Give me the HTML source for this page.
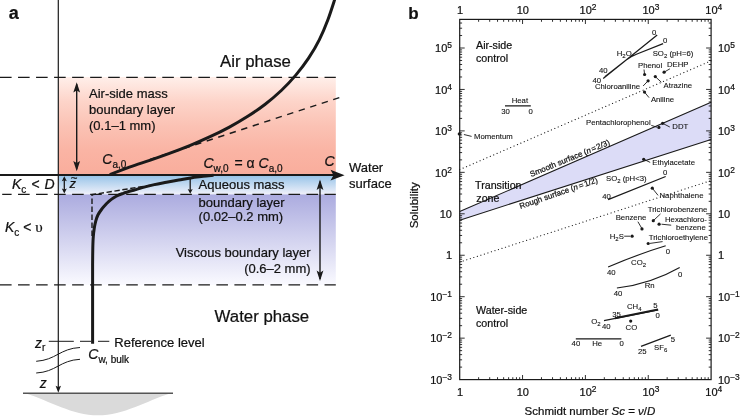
<!DOCTYPE html>
<html lang="en"><head><meta charset="utf-8"><title>Air–water gas exchange</title>
<style>
html,body{margin:0;padding:0;background:#fff}
body{width:740px;height:418px;overflow:hidden}
svg{display:block}
text{font-family:"Liberation Sans",Arial,Helvetica,sans-serif;fill:#111;stroke:#111;stroke-width:0.22px}
.i{font-style:italic}
.m{font-size:14px}
.ser{font-family:"Liberation Serif",serif;font-size:15px}
.b{font-weight:bold}
.t13{font-size:13px}
.t165{font-size:16.8px}
.t105{font-size:10.7px}
.t10{font-size:11px}
.t8{font-size:7.75px;stroke-width:0.1px}
.sup{font-size:8.4px}
.sub{font-size:10px}
.ln{stroke:#1a1a1a;fill:none}
</style></head><body>
<svg width="740" height="418" viewBox="0 0 740 418">
<defs>
<linearGradient id="gp" x1="0" y1="0" x2="0" y2="1"><stop offset="0" stop-color="#ffefea"/><stop offset="0.25" stop-color="#fdd4c9"/><stop offset="0.5" stop-color="#fbc2b4"/><stop offset="0.75" stop-color="#fab4a4"/><stop offset="1" stop-color="#f9ad9c"/></linearGradient>
<linearGradient id="gb" x1="0" y1="0" x2="0" y2="1"><stop offset="0" stop-color="#96c3e8"/><stop offset="1" stop-color="#f0f1fa"/></linearGradient>
<linearGradient id="gv" x1="0" y1="0" x2="0" y2="1"><stop offset="0" stop-color="#ababdf"/><stop offset="1" stop-color="#fafaff"/></linearGradient>
</defs>
<g id="panel-a">
<rect x="58.3" y="77" width="277.5" height="98.2" fill="url(#gp)"/>
<rect x="58.3" y="175.2" width="277.5" height="19.2" fill="url(#gb)"/>
<rect x="58.3" y="194.4" width="277.5" height="90.4" fill="url(#gv)"/>
<path d="M26 393.5 C50 401 72 415.3 98 415.3 C124 415.3 146 401 170 393.5 Z" fill="#dadada"/>
<line x1="23" y1="393.2" x2="173" y2="393.2" stroke="#555" stroke-width="1.4"/>
<line x1="58.3" y1="0" x2="58.3" y2="387" class="ln" stroke-width="1.2"/>
<path d="M58.3 392.8 L55.6 385.8 L58.3 387 L61 385.8 Z" fill="#1a1a1a"/>
<line x1="0" y1="77.3" x2="335.8" y2="77.3" class="ln" stroke-width="1.15" stroke-dasharray="11.6 6.43"/>
<line x1="0" y1="194.4" x2="335.8" y2="194.4" class="ln" stroke-width="1.15" stroke-dasharray="11.6 6.43"/><rect x="0" y="192" width="2.2" height="5" fill="#fff"/>
<line x1="0" y1="284.8" x2="335.8" y2="284.8" class="ln" stroke-width="1.15" stroke-dasharray="11.6 6.43"/>
<path d="M48.8 341.3 H73.8 M80 341.3 H91 M98 341.3 H109.3" class="ln" stroke-width="1"/>
<path d="M36.2 361.3 C56 360 60 348.5 80 347.5" class="ln" stroke-width="1"/>
<path d="M36.2 373 C56 372 60 360.3 80 359.3" class="ln" stroke-width="1"/>
<line x1="339.3" y1="97.6" x2="150" y2="159.5" class="ln" stroke-width="1.5" stroke-dasharray="6.4 5.7"/>
<path d="M92 236 V194.7 L160 183.7" class="ln" stroke-width="1.4" stroke-dasharray="5.4 2.6"/>
<line x1="0" y1="175.1" x2="334" y2="175.1" class="ln" stroke-width="2"/>
<path d="M344.6 175.2 L330.5 169.8 L333.5 175.2 L330.5 180.6 Z" fill="#1a1a1a"/>
<path d="M109.8 174.6 C113.1 173.3 122.8 169.5 129.4 167.1 C136.1 164.7 142.9 162.6 149.7 160.3 C156.5 158.0 163.3 155.6 170.1 153.1 C176.9 150.6 183.6 148.0 190.3 145.3 C197.0 142.6 203.6 139.7 210.1 136.7 C216.6 133.7 223.1 130.5 229.4 127.1 C235.7 123.7 241.8 120.1 247.8 116.3 C253.8 112.5 259.6 108.5 265.2 104.2 C270.8 99.9 276.2 95.3 281.3 90.5 C286.4 85.7 291.2 80.5 295.8 75.1 C300.4 69.7 304.7 64.1 308.6 58.2 C312.5 52.3 316.2 46.1 319.4 39.6 C322.6 33.1 325.4 26.4 328.0 19.5 C330.6 12.6 334.0 1.6 335.2 -2.0" class="ln" stroke-width="3"/>
<path d="M213.5 175.2 C211.8 175.4 206.8 175.9 203.0 176.3 C199.2 176.8 194.9 177.3 190.8 177.9 C186.8 178.5 182.8 179.3 178.7 180.0 C174.6 180.7 170.6 181.4 166.5 182.2 C162.4 183.0 158.4 183.7 154.3 184.6 C150.2 185.5 145.4 186.7 142.2 187.6 C139.0 188.5 137.3 189.1 135.0 189.8 C132.7 190.5 130.0 191.2 128.1 191.8 C126.1 192.4 124.9 192.7 123.3 193.3 C121.7 193.9 120.1 194.4 118.5 195.2 C116.9 195.9 115.3 196.8 113.7 197.8 C112.1 198.8 110.4 200.1 108.9 201.4 C107.4 202.7 106.0 204.2 104.8 205.6 C103.6 206.9 102.7 207.9 101.5 209.5 C100.3 211.1 98.9 213.1 97.9 215.0 C97.0 216.9 96.4 218.6 95.8 220.8 C95.2 223.0 94.7 225.4 94.3 228.0 C93.9 230.6 93.5 233.3 93.3 236.6 C93.0 239.9 92.9 243.3 92.8 248.0 C92.7 252.7 92.6 262.2 92.6 265.0 V343.8" class="ln" stroke-width="3"/>
<line x1="76.7" y1="84.2" x2="76.7" y2="169.3" class="ln" stroke-width="1.4"/><path d="M76.7 82.2 L73.3 92.6 L76.7 90.4 L80.1 92.6 Z" fill="#1a1a1a"/><path d="M76.7 171.3 L73.3 160.9 L76.7 163.1 L80.1 160.9 Z" fill="#1a1a1a"/>
<line x1="64.3" y1="178.2" x2="64.3" y2="191.6" class="ln" stroke-width="1.3"/><path d="M64.3 176.2 L61.8 181.2 L64.3 180.2 L66.8 181.2 Z" fill="#1a1a1a"/><path d="M64.3 193.6 L61.8 188.6 L64.3 189.6 L66.8 188.6 Z" fill="#1a1a1a"/>
<line x1="190.2" y1="178.0" x2="190.2" y2="191.7" class="ln" stroke-width="1.3"/><path d="M190.2 193.7 L187.7 189.1 L190.2 189.9 L192.7 189.1 Z" fill="#1a1a1a"/>
<line x1="320.0" y1="181.5" x2="320.0" y2="279.0" class="ln" stroke-width="1.4"/><path d="M320.0 179.5 L316.6 189.9 L320.0 187.7 L323.4 189.9 Z" fill="#1a1a1a"/><path d="M320.0 281.0 L316.6 270.6 L320.0 272.8 L323.4 270.6 Z" fill="#1a1a1a"/>
<text x="8.8" y="19.4" class="b" style="font-size:18px">a</text>
<text x="220" y="66.6" class="t165">Air phase</text>
<text x="214.6" y="321.6" class="t165">Water phase</text>
<text x="89" y="98.1" class="t13">Air-side mass</text>
<text x="89" y="114" class="t13">boundary layer</text>
<text x="89" y="129.6" class="t13">(0.1–1 mm)</text>
<text x="198.6" y="188.9" class="t13">Aqueous mass</text>
<text x="198.6" y="206.9" class="t13">boundary layer</text>
<text x="198.6" y="220.8" class="t13">(0.02–0.2 mm)</text>
<text x="310.6" y="256.7" class="t13" text-anchor="end">Viscous boundary layer</text>
<text x="310.6" y="272.5" class="t13" text-anchor="end">(0.6–2 mm)</text>
<text x="349" y="172.2" class="t13">Water</text>
<text x="349" y="188.2" class="t13">surface</text>
<text x="114.3" y="347.2" class="t13">Reference level</text>
<text x="102.3" y="164" class="m"><tspan class="i">C</tspan><tspan class="sub" dy="3.9">a,0</tspan></text>
<text x="203.4" y="167.8" class="m"><tspan class="i">C</tspan><tspan class="sub" dy="3.9">w,0</tspan><tspan dy="-3.9" dx="6">= α </tspan><tspan class="i">C</tspan><tspan class="sub" dy="3.9">a,0</tspan></text>
<text x="324.6" y="166" class="m i">C</text>
<text x="12" y="189" class="m"><tspan class="i">K</tspan><tspan class="sub" dy="3.9">c</tspan><tspan dy="-3.9" dx="1.2"> &lt; </tspan><tspan class="i" dx="1">D</tspan></text>
<text x="5" y="232.4" class="m"><tspan class="i">K</tspan><tspan class="sub" dy="3.9">c</tspan><tspan dy="-3.9"> &lt; </tspan><tspan class="ser">υ</tspan></text>
<text x="69.6" y="188" class="t13 i">z</text>
<text x="70.8" y="182.3" style="font-size:11.5px">~</text>
<text x="35" y="347.5" class="m"><tspan class="i">z</tspan><tspan class="sub" dy="3.5">r</tspan></text>
<text x="39.8" y="387.5" class="m i">z</text>
<text x="88.3" y="358.8" class="m"><tspan class="i">C</tspan><tspan class="sub" dy="3.9">w, bulk</tspan></text>
</g>
<g id="panel-b">
<path d="M459.7 211.6 L711.1 102.3 L711.1 139.4 L459.7 220.2 Z" fill="#dcdcf7"/>
<path d="M459.7 211.6 L711.1 102.3 M459.7 220.2 L711.1 139.4" class="ln" stroke-width="1.1"/>
<path d="M459.7 169.6 L711.1 60.8 M459.7 262.1 L711.1 180.5" class="ln" stroke-width="1.15" stroke-linecap="round" stroke-dasharray="0.1 3.6"/>
<rect x="459.7" y="19.4" width="251.4" height="360.2" class="ln" stroke-width="1.2"/>
<path d="M478.62 19.4 v2.4 M478.62 379.6 v-2.4 M489.69 19.4 v2.4 M489.69 379.6 v-2.4 M497.54 19.4 v2.4 M497.54 379.6 v-2.4 M503.63 19.4 v2.4 M503.63 379.6 v-2.4 M508.61 19.4 v2.4 M508.61 379.6 v-2.4 M512.81 19.4 v2.4 M512.81 379.6 v-2.4 M516.46 19.4 v2.4 M516.46 379.6 v-2.4 M519.67 19.4 v2.4 M519.67 379.6 v-2.4 M522.55 19.4 v4.6 M522.55 379.6 v-4.6 M541.47 19.4 v2.4 M541.47 379.6 v-2.4 M552.54 19.4 v2.4 M552.54 379.6 v-2.4 M560.39 19.4 v2.4 M560.39 379.6 v-2.4 M566.48 19.4 v2.4 M566.48 379.6 v-2.4 M571.46 19.4 v2.4 M571.46 379.6 v-2.4 M575.66 19.4 v2.4 M575.66 379.6 v-2.4 M579.31 19.4 v2.4 M579.31 379.6 v-2.4 M582.52 19.4 v2.4 M582.52 379.6 v-2.4 M585.40 19.4 v4.6 M585.40 379.6 v-4.6 M604.32 19.4 v2.4 M604.32 379.6 v-2.4 M615.39 19.4 v2.4 M615.39 379.6 v-2.4 M623.24 19.4 v2.4 M623.24 379.6 v-2.4 M629.33 19.4 v2.4 M629.33 379.6 v-2.4 M634.31 19.4 v2.4 M634.31 379.6 v-2.4 M638.51 19.4 v2.4 M638.51 379.6 v-2.4 M642.16 19.4 v2.4 M642.16 379.6 v-2.4 M645.37 19.4 v2.4 M645.37 379.6 v-2.4 M648.25 19.4 v4.6 M648.25 379.6 v-4.6 M667.17 19.4 v2.4 M667.17 379.6 v-2.4 M678.24 19.4 v2.4 M678.24 379.6 v-2.4 M686.09 19.4 v2.4 M686.09 379.6 v-2.4 M692.18 19.4 v2.4 M692.18 379.6 v-2.4 M697.16 19.4 v2.4 M697.16 379.6 v-2.4 M701.36 19.4 v2.4 M701.36 379.6 v-2.4 M705.01 19.4 v2.4 M705.01 379.6 v-2.4 M708.22 19.4 v2.4 M708.22 379.6 v-2.4 M459.7 367.12 h2.4 M711.1 367.12 h-2.4 M459.7 359.82 h2.4 M711.1 359.82 h-2.4 M459.7 354.64 h2.4 M711.1 354.64 h-2.4 M459.7 350.63 h2.4 M711.1 350.63 h-2.4 M459.7 347.35 h2.4 M711.1 347.35 h-2.4 M459.7 344.57 h2.4 M711.1 344.57 h-2.4 M459.7 342.17 h2.4 M711.1 342.17 h-2.4 M459.7 340.05 h2.4 M711.1 340.05 h-2.4 M459.7 338.15 h5 M711.1 338.15 h-5 M459.7 325.67 h2.4 M711.1 325.67 h-2.4 M459.7 318.37 h2.4 M711.1 318.37 h-2.4 M459.7 313.19 h2.4 M711.1 313.19 h-2.4 M459.7 309.18 h2.4 M711.1 309.18 h-2.4 M459.7 305.90 h2.4 M711.1 305.90 h-2.4 M459.7 303.12 h2.4 M711.1 303.12 h-2.4 M459.7 300.72 h2.4 M711.1 300.72 h-2.4 M459.7 298.60 h2.4 M711.1 298.60 h-2.4 M459.7 296.70 h5 M711.1 296.70 h-5 M459.7 284.22 h2.4 M711.1 284.22 h-2.4 M459.7 276.92 h2.4 M711.1 276.92 h-2.4 M459.7 271.74 h2.4 M711.1 271.74 h-2.4 M459.7 267.73 h2.4 M711.1 267.73 h-2.4 M459.7 264.45 h2.4 M711.1 264.45 h-2.4 M459.7 261.67 h2.4 M711.1 261.67 h-2.4 M459.7 259.27 h2.4 M711.1 259.27 h-2.4 M459.7 257.15 h2.4 M711.1 257.15 h-2.4 M459.7 255.25 h5 M711.1 255.25 h-5 M459.7 242.77 h2.4 M711.1 242.77 h-2.4 M459.7 235.47 h2.4 M711.1 235.47 h-2.4 M459.7 230.29 h2.4 M711.1 230.29 h-2.4 M459.7 226.28 h2.4 M711.1 226.28 h-2.4 M459.7 223.00 h2.4 M711.1 223.00 h-2.4 M459.7 220.22 h2.4 M711.1 220.22 h-2.4 M459.7 217.82 h2.4 M711.1 217.82 h-2.4 M459.7 215.70 h2.4 M711.1 215.70 h-2.4 M459.7 213.80 h5 M711.1 213.80 h-5 M459.7 201.32 h2.4 M711.1 201.32 h-2.4 M459.7 194.02 h2.4 M711.1 194.02 h-2.4 M459.7 188.84 h2.4 M711.1 188.84 h-2.4 M459.7 184.83 h2.4 M711.1 184.83 h-2.4 M459.7 181.55 h2.4 M711.1 181.55 h-2.4 M459.7 178.77 h2.4 M711.1 178.77 h-2.4 M459.7 176.37 h2.4 M711.1 176.37 h-2.4 M459.7 174.25 h2.4 M711.1 174.25 h-2.4 M459.7 172.35 h5 M711.1 172.35 h-5 M459.7 159.87 h2.4 M711.1 159.87 h-2.4 M459.7 152.57 h2.4 M711.1 152.57 h-2.4 M459.7 147.39 h2.4 M711.1 147.39 h-2.4 M459.7 143.38 h2.4 M711.1 143.38 h-2.4 M459.7 140.10 h2.4 M711.1 140.10 h-2.4 M459.7 137.32 h2.4 M711.1 137.32 h-2.4 M459.7 134.92 h2.4 M711.1 134.92 h-2.4 M459.7 132.80 h2.4 M711.1 132.80 h-2.4 M459.7 130.90 h5 M711.1 130.90 h-5 M459.7 118.42 h2.4 M711.1 118.42 h-2.4 M459.7 111.12 h2.4 M711.1 111.12 h-2.4 M459.7 105.94 h2.4 M711.1 105.94 h-2.4 M459.7 101.93 h2.4 M711.1 101.93 h-2.4 M459.7 98.65 h2.4 M711.1 98.65 h-2.4 M459.7 95.87 h2.4 M711.1 95.87 h-2.4 M459.7 93.47 h2.4 M711.1 93.47 h-2.4 M459.7 91.35 h2.4 M711.1 91.35 h-2.4 M459.7 89.45 h5 M711.1 89.45 h-5 M459.7 76.97 h2.4 M711.1 76.97 h-2.4 M459.7 69.67 h2.4 M711.1 69.67 h-2.4 M459.7 64.49 h2.4 M711.1 64.49 h-2.4 M459.7 60.48 h2.4 M711.1 60.48 h-2.4 M459.7 57.20 h2.4 M711.1 57.20 h-2.4 M459.7 54.42 h2.4 M711.1 54.42 h-2.4 M459.7 52.02 h2.4 M711.1 52.02 h-2.4 M459.7 49.90 h2.4 M711.1 49.90 h-2.4 M459.7 48.00 h5 M711.1 48.00 h-5 M459.7 35.52 h2.4 M711.1 35.52 h-2.4 M459.7 28.22 h2.4 M711.1 28.22 h-2.4 M459.7 23.04 h2.4 M711.1 23.04 h-2.4" class="ln" stroke-width="0.9"/>
<text x="456.9" y="14.3" class="t10">1</text>
<text x="456.9" y="396.4" class="t10">1</text>
<text x="516.7" y="14.3" class="t10">10</text>
<text x="516.7" y="396.4" class="t10">10</text>
<text x="579.6" y="14.3" class="t10">10<tspan class="sup" dy="-4">2</tspan></text>
<text x="579.6" y="396.4" class="t10">10<tspan class="sup" dy="-4">2</tspan></text>
<text x="642.4" y="14.3" class="t10">10<tspan class="sup" dy="-4">3</tspan></text>
<text x="642.4" y="396.4" class="t10">10<tspan class="sup" dy="-4">3</tspan></text>
<text x="705.3" y="14.3" class="t10">10<tspan class="sup" dy="-4">4</tspan></text>
<text x="705.3" y="396.4" class="t10">10<tspan class="sup" dy="-4">4</tspan></text>
<text x="452" y="383.7" class="t10" text-anchor="end">10<tspan class="sup" dy="-4">−3</tspan></text>
<text x="717.9" y="383.7" class="t10">10<tspan class="sup" dy="-4">−3</tspan></text>
<text x="452" y="342.3" class="t10" text-anchor="end">10<tspan class="sup" dy="-4">−2</tspan></text>
<text x="717.9" y="342.3" class="t10">10<tspan class="sup" dy="-4">−2</tspan></text>
<text x="452" y="300.8" class="t10" text-anchor="end">10<tspan class="sup" dy="-4">−1</tspan></text>
<text x="717.9" y="300.8" class="t10">10<tspan class="sup" dy="-4">−1</tspan></text>
<text x="452" y="259.4" class="t10" text-anchor="end">1</text>
<text x="717.9" y="259.4" class="t10">1</text>
<text x="452" y="217.9" class="t10" text-anchor="end">10</text>
<text x="717.9" y="217.9" class="t10">10</text>
<text x="452" y="176.5" class="t10" text-anchor="end">10<tspan class="sup" dy="-4">2</tspan></text>
<text x="717.9" y="176.5" class="t10">10<tspan class="sup" dy="-4">2</tspan></text>
<text x="452" y="135.0" class="t10" text-anchor="end">10<tspan class="sup" dy="-4">3</tspan></text>
<text x="717.9" y="135.0" class="t10">10<tspan class="sup" dy="-4">3</tspan></text>
<text x="452" y="93.5" class="t10" text-anchor="end">10<tspan class="sup" dy="-4">4</tspan></text>
<text x="717.9" y="93.5" class="t10">10<tspan class="sup" dy="-4">4</tspan></text>
<text x="452" y="52.1" class="t10" text-anchor="end">10<tspan class="sup" dy="-4">5</tspan></text>
<text x="717.9" y="52.1" class="t10">10<tspan class="sup" dy="-4">5</tspan></text>
<text x="408.2" y="19.2" class="b" style="font-size:17px">b</text>
<text x="524.6" y="414.8" style="font-size:11.5px">Schmidt number <tspan class="i">Sc</tspan> = <tspan class="i">ν</tspan>/<tspan class="i">D</tspan></text>
<text transform="translate(418.2 205.3) rotate(-90)" text-anchor="middle" style="font-size:11.5px">Solubility</text>
<text x="476" y="48.8" class="t105">Air-side</text><text x="476" y="61.8" class="t105">control</text>
<text x="475" y="188.8" class="t105">Transition</text><text x="476.3" y="202" class="t105">zone</text>
<text x="476" y="313.5" class="t105">Water-side</text><text x="476" y="326.5" class="t105">control</text>
<text transform="translate(531.2 177.1) rotate(-22.4)" style="font-size:8px">Smooth surface (<tspan class="i">n</tspan><tspan dx="0.9">=</tspan><tspan dx="0.9">2/3)</tspan></text>
<text transform="translate(520.5 208.9) rotate(-18.9)" style="font-size:8px">Rough surface (<tspan class="i">n</tspan><tspan dx="1.2">=</tspan><tspan dx="1.2">1/2)</tspan></text>
<path d="M603.2 78.6 L657.2 35.1 M604.8 76.8 L626.5 59.8 Q631 56.4 637 54 L663.1 43.7 M505 105.8 H530.8 M608.1 199.7 L665.7 176.5 M575.8 338.8 H621.4 M641 346.4 L670.8 335.1 M604 320.7 L658.1 309.8" class="ln" stroke-width="1.25"/>
<path d="M614.9 318.3 L658.1 309.6" class="ln" stroke-width="2"/>
<path d="M608.1 267 Q636.9 254.6 665.7 245.8" class="ln" stroke-width="1.1"/>
<path d="M616.9 288 Q651 283.8 679.7 267.4" class="ln" stroke-width="1.1"/>
<circle cx="644.6" cy="74.5" r="1.6" fill="#1a1a1a"/>
<circle cx="664.1" cy="72.2" r="1.6" fill="#1a1a1a"/>
<circle cx="655.3" cy="76.6" r="1.6" fill="#1a1a1a"/>
<circle cx="648.1" cy="80.8" r="1.6" fill="#1a1a1a"/>
<circle cx="644.5" cy="92.1" r="1.6" fill="#1a1a1a"/>
<circle cx="459.3" cy="133.9" r="1.6" fill="#1a1a1a"/>
<circle cx="658.9" cy="127.4" r="1.6" fill="#1a1a1a"/>
<circle cx="662.6" cy="123.3" r="1.6" fill="#1a1a1a"/>
<circle cx="643.7" cy="159.3" r="1.6" fill="#1a1a1a"/>
<circle cx="652.3" cy="188.2" r="1.6" fill="#1a1a1a"/>
<circle cx="653.3" cy="220.7" r="1.6" fill="#1a1a1a"/>
<circle cx="642.0" cy="228.9" r="1.6" fill="#1a1a1a"/>
<circle cx="659.1" cy="224.2" r="1.6" fill="#1a1a1a"/>
<circle cx="632.1" cy="236.2" r="1.6" fill="#1a1a1a"/>
<circle cx="648.2" cy="243.5" r="1.6" fill="#1a1a1a"/>
<circle cx="630.7" cy="321.1" r="1.6" fill="#1a1a1a"/>
<path d="M644 69.5 L644.6 74.5 M664.1 72.2 L669.9 68.8 M655.3 76.6 L661.3 82.2 M648.1 80.8 L643.1 86 M644.5 92.1 L649 97.6 M463.9 134.5 L471.6 136.4 M651.3 125.4 L657 127.2 M662.6 123.3 L669.8 127 M643.7 159.3 L650.2 162.4 M652.3 188.2 L658.1 195.4 M660.5 213.9 L654 220 M637.9 221.7 L641.6 228 M661.5 224.2 L671.2 225.2 M624.2 236.2 H630 M650 243.4 L662.6 241.6" class="ln" stroke-width="0.9"/>
<text x="599.0" y="73.2" class="t8">40</text>
<text x="592.4" y="82.7" class="t8">40</text>
<text x="652.0" y="34.9" class="t8">0</text>
<text x="663.0" y="42.6" class="t8">0</text>
<text x="616.7" y="56.0" class="t8">H<tspan style="font-size:6px" dy="2">2</tspan><tspan dy="-2">O</tspan></text>
<text x="652.7" y="56.0" class="t8">SO<tspan style="font-size:6px" dy="2">2</tspan><tspan dy="-2"> (pH=6)</tspan></text>
<text x="638.0" y="67.8" class="t8">Phenol</text>
<text x="667.0" y="66.9" class="t8">DEHP</text>
<text x="663.6" y="87.9" class="t8">Atrazine</text>
<text x="594.9" y="88.8" class="t8">Chloroaniline</text>
<text x="650.9" y="101.8" class="t8">Aniline</text>
<text x="511.7" y="102.9" class="t8">Heat</text>
<text x="501.2" y="113.5" class="t8">30</text>
<text x="528.5" y="113.5" class="t8">0</text>
<text x="474.0" y="139.0" class="t8">Momentum</text>
<text x="586.0" y="125.4" class="t8">Pentachlorophenol</text>
<text x="672.3" y="129.1" class="t8">DDT</text>
<text x="652.3" y="165.1" class="t8">Ethylacetate</text>
<text x="606.0" y="180.6" class="t8">SO<tspan style="font-size:6px" dy="2">2</tspan><tspan dy="-2"> (pH&lt;3)</tspan></text>
<text x="602.3" y="198.7" class="t8">40</text>
<text x="663.0" y="175.4" class="t8">0</text>
<text x="659.5" y="198.1" class="t8">Naphthalene</text>
<text x="647.8" y="211.9" class="t8">Trichlorobenzene</text>
<text x="615.7" y="219.7" class="t8">Benzene</text>
<text x="665.0" y="221.7" class="t8">Hexachloro-</text>
<text x="676.0" y="230.0" class="t8">benzene</text>
<text x="609.7" y="238.8" class="t8">H<tspan style="font-size:6px" dy="2">2</tspan><tspan dy="-2">S</tspan></text>
<text x="648.8" y="240.3" class="t8">Trichloroethylene</text>
<text x="665.7" y="254.3" class="t8">0</text>
<text x="631.1" y="265.4" class="t8">CO<tspan style="font-size:6px" dy="2">2</tspan></text>
<text x="607.0" y="275.3" class="t8">40</text>
<text x="678.0" y="276.5" class="t8">0</text>
<text x="644.7" y="288.2" class="t8">Rn</text>
<text x="613.8" y="295.8" class="t8">40</text>
<text x="627.0" y="308.9" class="t8">CH<tspan style="font-size:6px" dy="2">4</tspan></text>
<text x="653.3" y="307.8" class="t8">5</text>
<text x="612.2" y="316.6" class="t8">35</text>
<text x="655.4" y="317.6" class="t8">0</text>
<text x="591.2" y="323.8" class="t8">O<tspan style="font-size:6px" dy="2">2</tspan></text>
<text x="601.9" y="328.5" class="t8">40</text>
<text x="625.6" y="330.4" class="t8">CO</text>
<text x="571.6" y="346.4" class="t8">40</text>
<text x="592.2" y="346.4" class="t8">He</text>
<text x="619.4" y="346.4" class="t8">0</text>
<text x="670.8" y="341.9" class="t8">5</text>
<text x="637.9" y="353.6" class="t8">25</text>
<text x="654.0" y="349.5" class="t8">SF<tspan style="font-size:6px" dy="2">6</tspan></text>
</g>
</svg>
</body></html>
